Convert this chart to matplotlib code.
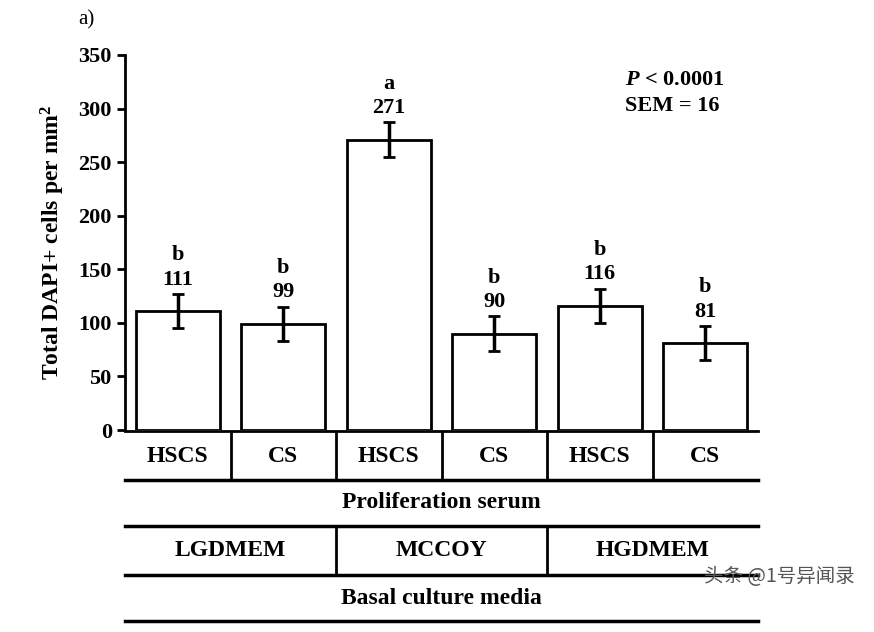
import matplotlib.pyplot as plt
import numpy as np

serum = ["HSCS", "CS", "HSCS", "CS", "HSCS", "CS"]
media = ["LGDMEM", "MCCOY", "HGDMEM"]
values = [111, 99, 271, 90, 116, 81]
letters = ["b", "b", "a", "b", "b", "b"]
sem = 16

plt.rcParams['font.family'] = ['Liberation Serif', 'Noto Sans CJK SC']
plt.rcParams['font.weight'] = 'bold'
plt.rcParams['mathtext.fontset'] = 'custom'
plt.rcParams['mathtext.rm'] = 'Liberation Serif:bold'
plt.rcParams['mathtext.it'] = 'Liberation Serif:italic:bold'
plt.rcParams['mathtext.bf'] = 'Liberation Serif:bold'

W, H = 874, 632
fig = plt.figure(figsize=(W / 100, H / 100), dpi=100)
L, R, B, T = 125, 758, 430, 55
ax = fig.add_axes([L / W, 1 - B / H, (R - L) / W, (B - T) / H])

x = np.arange(len(values))
ax.bar(x, values, width=0.8, color='white', edgecolor='black', linewidth=2)
ax.errorbar(x, values, yerr=sem, fmt='none', ecolor='black', elinewidth=2.5,
            capsize=4, capthick=2)
for xi, v, l in zip(x, values, letters):
    ax.text(xi, v + sem + 4, f"{l}\n{v}", ha='center', va='bottom',
            fontsize=16, fontweight='bold', linespacing=1.3)

ax.set_xlim(-0.5, 5.5)
ax.set_ylim(0, 350)
ax.set_yticks(range(0, 351, 50))
ax.tick_params(axis='y', labelsize=16, width=2, length=6)
ax.set_xticks([])
for s in ['top', 'right', 'bottom']:
    ax.spines[s].set_visible(False)
ax.spines['left'].set_linewidth(2)
ax.set_ylabel("Total DAPI+ cells per mm$^\\mathbf{2}$", fontsize=17,
              fontweight='bold', labelpad=8)

ax.text(0.79, 0.96, "$\\mathit{P}$ < 0.0001\nSEM = 16", transform=ax.transAxes,
        fontsize=16, fontweight='bold', va='top', linespacing=1.4)

tf = fig.transFigure


def px(xp, yp):
    return xp / W, 1 - yp / H


def hline(yp, lw=2.5):
    fig.add_artist(plt.Line2D([L / W, R / W], [1 - yp / H] * 2, color='black',
                              lw=lw, transform=tf))


def vline(xp, y0, y1):
    fig.add_artist(plt.Line2D([xp / W] * 2, [1 - y0 / H, 1 - y1 / H],
                              color='black', lw=2, transform=tf))


hline(431, 2)
for yp in (480, 526, 575, 621):
    hline(yp)
bw = (R - L) / 6
for i in range(1, 6):
    vline(L + i * bw, 432, 478)
for i in (2, 4):
    vline(L + i * bw, 527, 573)
for i, s in enumerate(serum):
    fig.text(*px(L + (i + 0.5) * bw, 457), s, ha='center', va='center', fontsize=17)
for i, m in enumerate(media):
    fig.text(*px(L + (2 * i + 1) * bw, 550), m, ha='center', va='center', fontsize=17)
fig.text(*px((L + R) / 2, 503), "Proliferation serum", ha='center', va='center', fontsize=17)
fig.text(*px((L + R) / 2, 598), "Basal culture media", ha='center', va='center', fontsize=17)
fig.text(*px(78, 20), "a)", ha='left', va='center', fontsize=15, fontweight='normal')
fig.text(*px(855, 577), "头条 @1号异闻录", ha='right', va='center', fontsize=14,
         color='#555555', fontweight='normal',
         family=['Noto Sans CJK SC', 'DejaVu Sans'])

fig.savefig("out.png", dpi=100)
